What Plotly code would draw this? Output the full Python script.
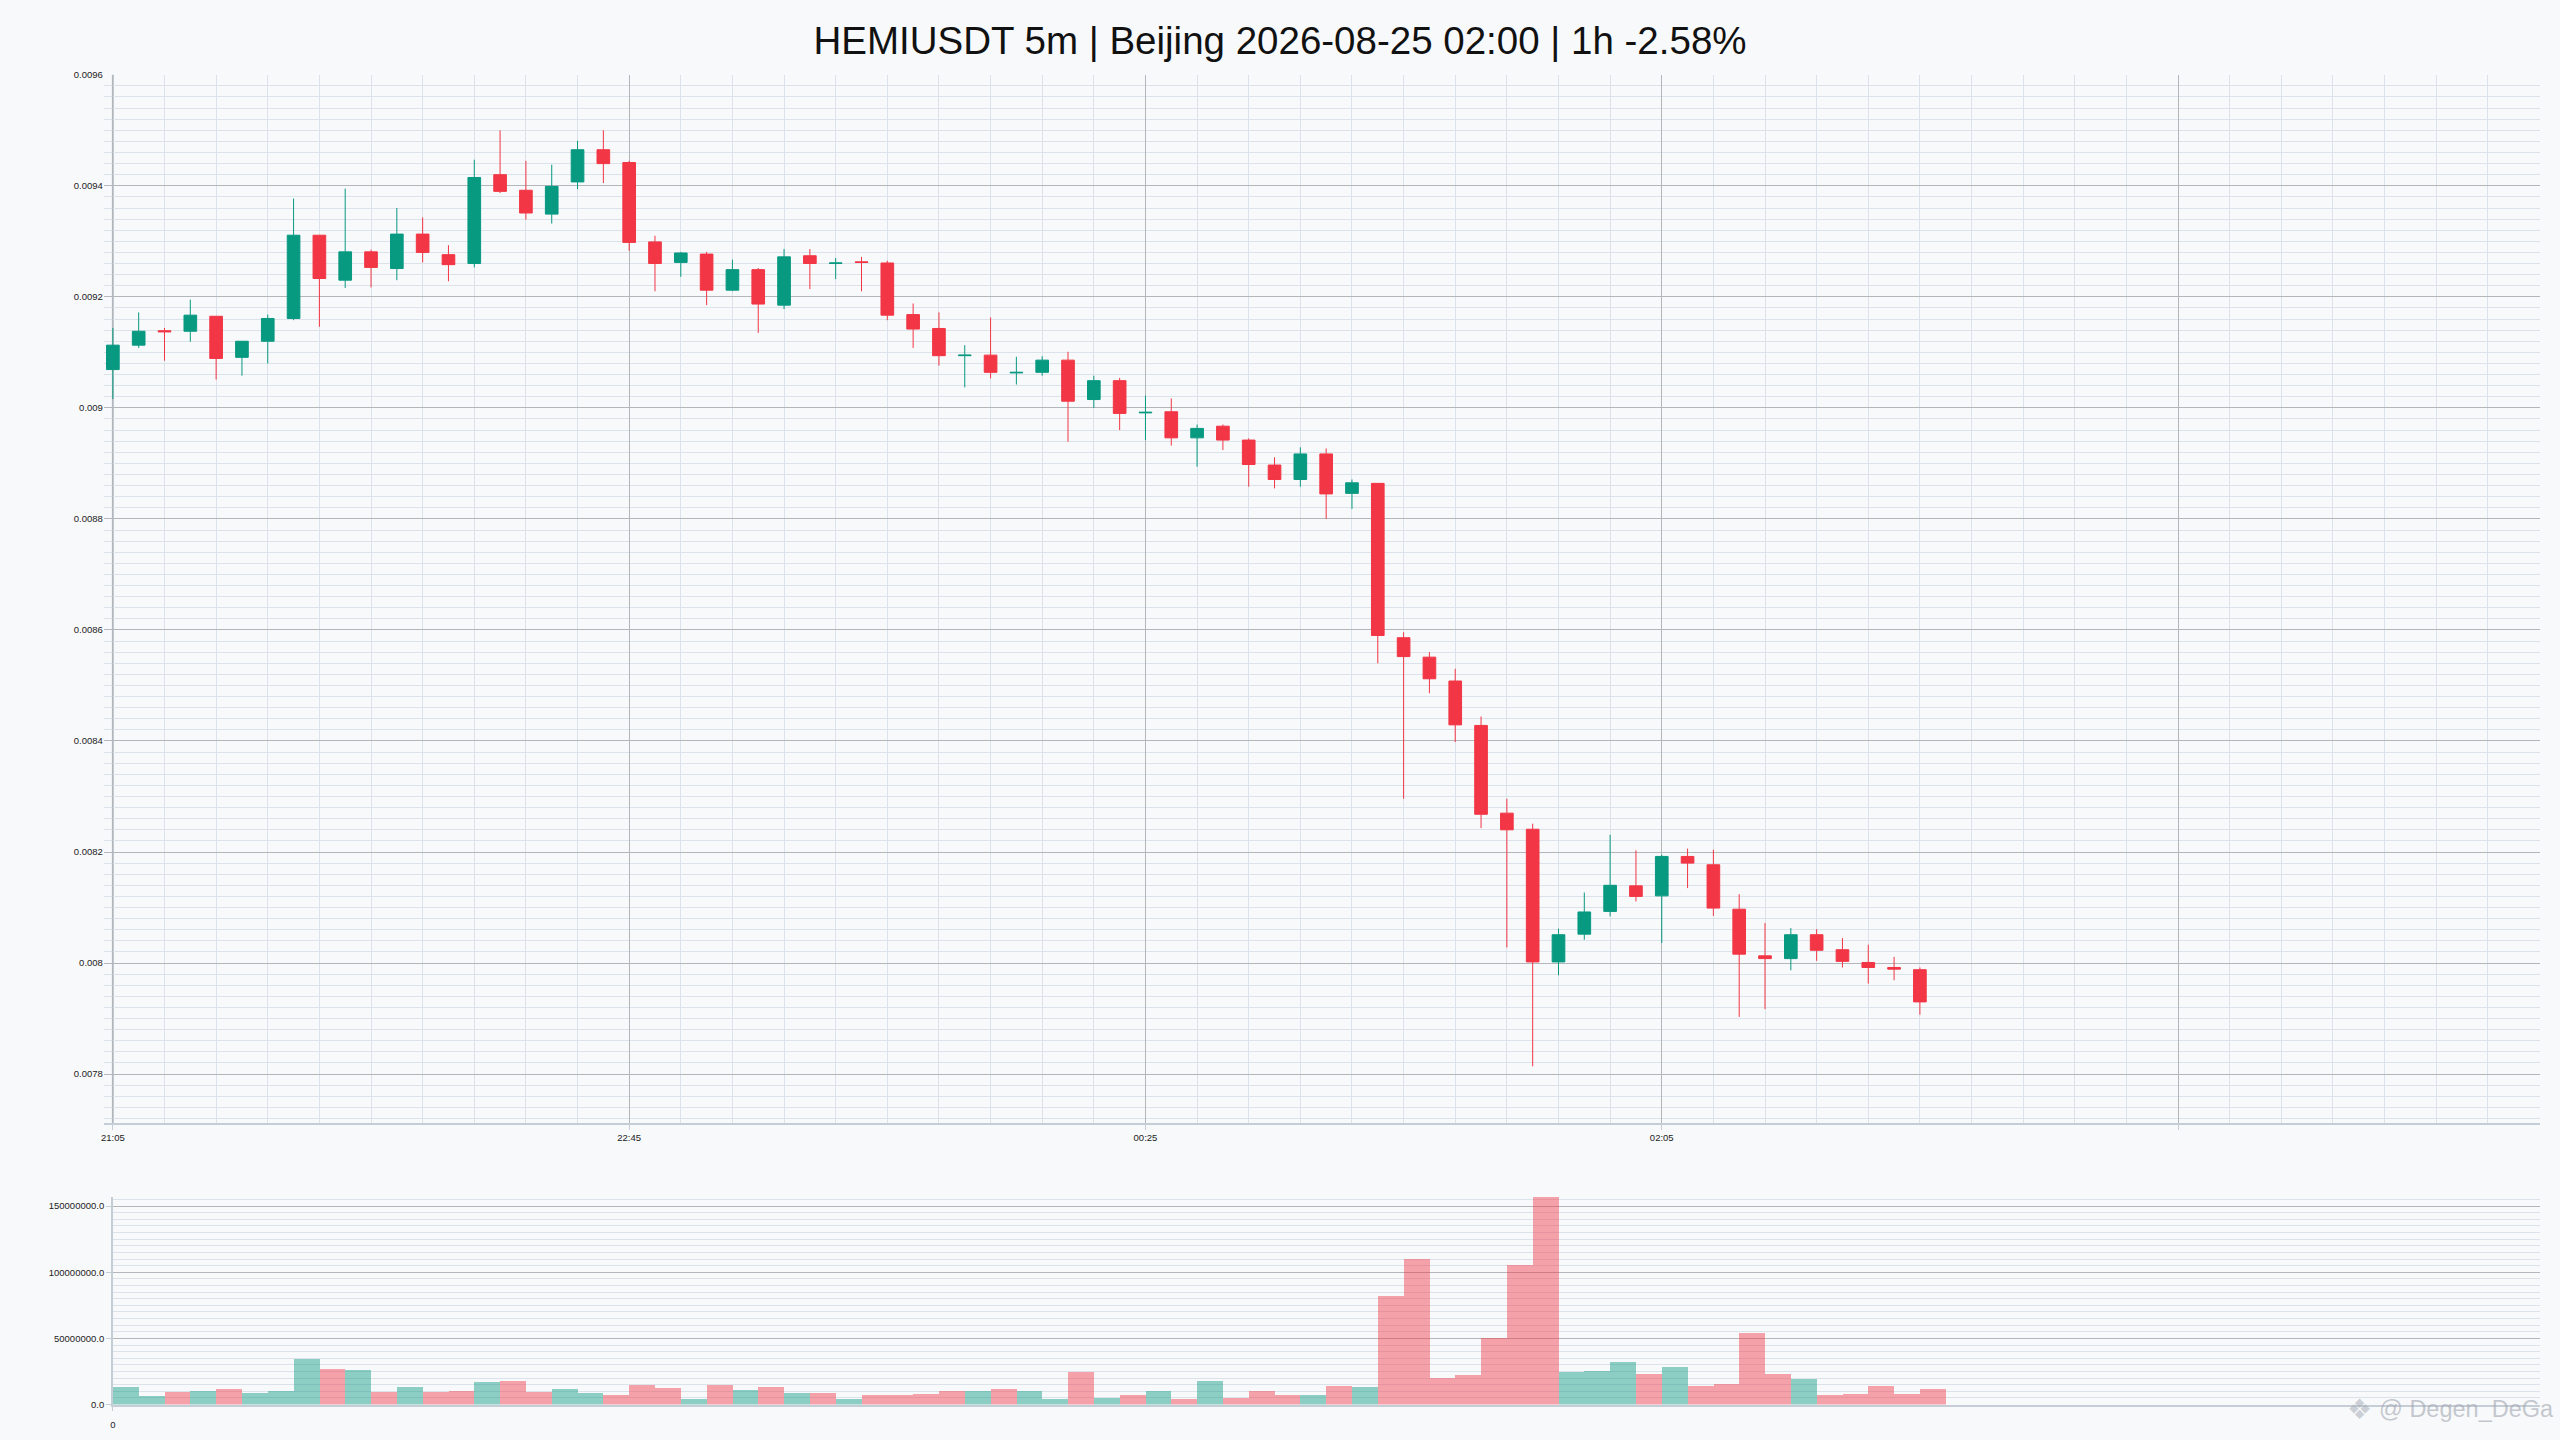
import pandas as pd
import plotly.graph_objects as go

# ---------------- data ----------------
START = "2026-08-24 21:05"
TITLE = "HEMIUSDT 5m | Beijing 2026-08-25 02:00 | 1h -2.58%"

OPEN = [0.009069, 0.009113, 0.009139, 0.009138, 0.009165, 0.009091, 0.009120, 0.009161, 0.009311, 0.009230,
        0.009281, 0.009251, 0.009313, 0.009276, 0.009260, 0.009420, 0.009392, 0.009349, 0.009407, 0.009465,
        0.009442, 0.009299, 0.009262, 0.009277, 0.009212, 0.009249, 0.009185, 0.009274, 0.009260, 0.009263,
        0.009261, 0.009168, 0.009143, 0.009094, 0.009095, 0.009063, 0.009064, 0.009086, 0.009015, 0.009049,
        0.008991, 0.008993, 0.008946, 0.008967, 0.008942, 0.008897, 0.008871, 0.008917, 0.008846, 0.008864,
        0.008586, 0.008551, 0.008508, 0.008428, 0.008270, 0.008241, 0.008002, 0.008052, 0.008093, 0.008139,
        0.008121, 0.008192, 0.008177, 0.008097, 0.008013, 0.008008, 0.008051, 0.008024, 0.008001, 0.007992,
        0.007988]
HIGH = [0.009144, 0.009172, 0.009144, 0.009195, 0.009165, 0.009120, 0.009168, 0.009377, 0.009311, 0.009395,
        0.009285, 0.009360, 0.009343, 0.009293, 0.009447, 0.009500, 0.009445, 0.009438, 0.009481, 0.009500,
        0.009445, 0.009310, 0.009281, 0.009281, 0.009267, 0.009252, 0.009286, 0.009286, 0.009270, 0.009272,
        0.009265, 0.009188, 0.009172, 0.009113, 0.009163, 0.009092, 0.009093, 0.009101, 0.009058, 0.009054,
        0.009022, 0.009017, 0.008970, 0.008970, 0.008945, 0.008911, 0.008929, 0.008927, 0.008871, 0.008864,
        0.008596, 0.008560, 0.008530, 0.008444, 0.008296, 0.008251, 0.008062, 0.008127, 0.008231, 0.008203,
        0.008195, 0.008206, 0.008204, 0.008124, 0.008072, 0.008063, 0.008061, 0.008045, 0.008033, 0.008011,
        0.007992]
LOW = [0.009016, 0.009108, 0.009085, 0.009119, 0.009051, 0.009058, 0.009080, 0.009158, 0.009146, 0.009216,
       0.009217, 0.009230, 0.009262, 0.009228, 0.009253, 0.009387, 0.009339, 0.009332, 0.009394, 0.009405,
       0.009283, 0.009210, 0.009236, 0.009185, 0.009210, 0.009135, 0.009178, 0.009214, 0.009232, 0.009210,
       0.009158, 0.009108, 0.009076, 0.009037, 0.009053, 0.009042, 0.009058, 0.008939, 0.009000, 0.008960,
       0.008942, 0.008932, 0.008894, 0.008924, 0.008858, 0.008855, 0.008858, 0.008800, 0.008818, 0.008540,
       0.008296, 0.008486, 0.008398, 0.008243, 0.008028, 0.007814, 0.007978, 0.008042, 0.008084, 0.008111,
       0.008036, 0.008135, 0.008085, 0.007903, 0.007917, 0.007987, 0.008004, 0.007992, 0.007963, 0.007969,
       0.007907]
CLOSE = [0.009113, 0.009138, 0.009137, 0.009167, 0.009089, 0.009120, 0.009161, 0.009311, 0.009233, 0.009281,
         0.009253, 0.009313, 0.009280, 0.009258, 0.009415, 0.009390, 0.009351, 0.009399, 0.009465, 0.009440,
         0.009298, 0.009260, 0.009279, 0.009212, 0.009249, 0.009187, 0.009272, 0.009260, 0.009261, 0.009262,
         0.009167, 0.009142, 0.009094, 0.009095, 0.009064, 0.009064, 0.009086, 0.009012, 0.009049, 0.008990,
         0.008992, 0.008946, 0.008963, 0.008942, 0.008898, 0.008871, 0.008917, 0.008845, 0.008865, 0.008590,
         0.008552, 0.008512, 0.008429, 0.008268, 0.008240, 0.008002, 0.008051, 0.008092, 0.008140, 0.008120,
         0.008192, 0.008180, 0.008099, 0.008016, 0.008008, 0.008051, 0.008023, 0.008003, 0.007992, 0.007989,
         0.007930]
VOLUME_M = [13.75, 6.25, 9.25, 10.0, 12.25, 8.5, 10.0, 34.75, 27.25, 26.5,
            9.25, 13.75, 9.25, 10.0, 17.5, 18.25, 9.25, 11.5, 8.5, 7.0,
            15.25, 13.0, 4.0, 15.25, 10.75, 13.75, 8.5, 8.5, 4.0, 7.0,
            7.0, 7.75, 10.0, 10.0, 11.5, 10.0, 4.0, 25.0, 4.75, 7.0,
            10.0, 4.0, 18.25, 4.75, 10.0, 7.0, 7.0, 14.5, 13.75, 82.0,
            110.5, 20.5, 22.75, 50.5, 105.25, 157.0, 25.0, 25.75, 32.5, 23.5,
            28.75, 14.5, 16.0, 54.25, 23.5, 19.75, 7.0, 7.75, 14.5, 7.75,
            12.25]

X_TICK_TEXT = ["21:05", "22:45", "00:25", "02:05", ""]
Y_TICK_VALS = [0.0078, 0.0080, 0.0082, 0.0084, 0.0086, 0.0088, 0.0090, 0.0092, 0.0094, 0.0096]
Y_TICK_TEXT = ["0.0078", "0.008", "0.0082", "0.0084", "0.0086", "0.0088", "0.009", "0.0092", "0.0094", "0.0096"]
V_TICK_VALS = [0, 50e6, 100e6, 150e6]
V_TICK_TEXT = ["0.0", "50000000.0", "100000000.0", "150000000.0"]
WATERMARK = "@ Degen_DeGa"

# ---------------- derived ----------------
times = pd.date_range(START, periods=len(OPEN), freq="5min")
t0 = times[0]
volume = [v * 1e6 for v in VOLUME_M]
vol_idx = list(range(len(volume)))
UP = "#089981"
DOWN = "#F23645"
vol_colors = ["rgba(8,153,129,0.45)" if c >= o else "rgba(242,54,69,0.45)" for o, c in zip(OPEN, CLOSE)]

W, H = 2560, 1440
BG = "#F8F9FB"
FONT = "Liberation Sans, Arial, sans-serif"
MAJOR = "#B3B6BB"
MINOR = "#DCE2EA"

# pixel layout
main_left, plot_right = 101, 2540
axis_x = 110
main_top, main_bottom = 69.3, 1125.3
vol_top, vol_bottom = 1200, 1409.3
px_per_min = 5.169
x_start = t0 - pd.Timedelta(minutes=(axis_x - main_left) / px_per_min)
x_end = t0 + pd.Timedelta(minutes=(plot_right - axis_x) / px_per_min)
major_ticks = [t0 + pd.Timedelta(minutes=100 * k) for k in range(len(X_TICK_TEXT))]

fig = go.Figure()
fig.add_trace(go.Candlestick(
    x=times, open=OPEN, high=HIGH, low=LOW, close=CLOSE,
    increasing=dict(line=dict(color=UP, width=1), fillcolor=UP),
    decreasing=dict(line=dict(color=DOWN, width=1), fillcolor=DOWN),
    xaxis="x", yaxis="y", showlegend=False, name="HEMIUSDT",
))
fig.add_trace(go.Bar(
    x=vol_idx, y=volume, width=1, offset=0,
    marker=dict(color=vol_colors, line=dict(width=0)),
    xaxis="x2", yaxis="y2", showlegend=False, name="Volume",
))

tickfont = dict(family=FONT, size=9.5, color="#222222")

fig.update_layout(
    width=W, height=H,
    margin=dict(l=0, r=0, t=0, b=0),
    paper_bgcolor=BG, plot_bgcolor=BG,
    bargap=0,
    title=dict(text=TITLE, x=0.5, xref="container", xanchor="center",
               y=1 - 41 / H, yref="container", yanchor="middle",
               font=dict(family=FONT, size=38.5, color="#111111")),
    xaxis=dict(
        domain=[main_left / W, plot_right / W],
        type="date", range=[x_start, x_end],
        rangeslider=dict(visible=False),
        tickmode="array", tickvals=major_ticks, ticktext=X_TICK_TEXT,
        ticks="outside", ticklen=5, tickcolor="#C5CDD6",
        tickfont=tickfont,
        showgrid=True, gridcolor=MAJOR, gridwidth=1,
        minor=dict(dtick=600000, tick0=t0, showgrid=True, gridcolor=MINOR, gridwidth=1, ticks=""),
        showline=True, linecolor="#C5CDD6", linewidth=2,
        zeroline=False, anchor="y", fixedrange=True,
    ),
    yaxis=dict(
        domain=[1 - main_bottom / H, 1 - main_top / H],
        range=[0.0077124, 0.0096],
        tickmode="array", tickvals=Y_TICK_VALS, ticktext=Y_TICK_TEXT,
        ticks="", tickfont=tickfont,
        showgrid=True, gridcolor=MAJOR, gridwidth=1,
        minor=dict(dtick=0.00002, tick0=0, showgrid=True, gridcolor=MINOR, gridwidth=1),
        showline=False, zeroline=False, anchor="x",
    ),
    xaxis2=dict(
        domain=[axis_x / W, plot_right / W],
        range=[0, (plot_right - axis_x) / (px_per_min * 5)],
        tickmode="array", tickvals=[0], ticktext=["0"],
        ticks="outside", ticklen=5, tickcolor="#C5CDD6",
        ticklabelstandoff=5,
        tickfont=tickfont,
        showgrid=False, zeroline=False,
        showline=True, linecolor="#C5CDD6", linewidth=1.5,
        anchor="y2",
    ),
    yaxis2=dict(
        domain=[1 - vol_bottom / H, 1 - vol_top / H],
        range=[0, max(volume)],
        tickmode="array", tickvals=V_TICK_VALS, ticktext=V_TICK_TEXT,
        ticks="outside", ticklen=5, tickcolor="#C5CDD6",
        tickfont=tickfont,
        showgrid=True, gridcolor=MAJOR, gridwidth=1,
        minor=dict(dtick=5e6, tick0=0, showgrid=True, gridcolor=MINOR, gridwidth=1),
        showline=True, linecolor="#C5CDD6", linewidth=1.5,
        zeroline=False, anchor="x2",
    ),
)

# left axis line of the price panel (passes through the first candle)
fig.add_shape(type="line", xref="x", yref="y domain", x0=t0, x1=t0, y0=0, y1=1,
              line=dict(color="#B9C0C8", width=2), layer="below")

# watermark
fig.add_annotation(text="❖", xref="paper", yref="paper", x=2359 / W, y=1 - 1414 / H,
                   xanchor="center", yanchor="middle", showarrow=False,
                   font=dict(family="DejaVu Sans", size=28, color="rgba(160,166,175,0.5)"))
fig.add_annotation(text=WATERMARK, xref="paper", yref="paper", x=2377 / W, y=1 - 1414 / H,
                   xanchor="left", yanchor="middle", showarrow=False,
                   font=dict(family=FONT, size=23.5, color="rgba(160,166,175,0.6)"))

fig.write_html(
    "out.html",
    config={"displayModeBar": False},
    post_script="document.body.style.margin='0';document.body.style.padding='0';"
                "document.body.style.background='#F8F9FB';"
                "document.documentElement.style.overflow='hidden';",
)
